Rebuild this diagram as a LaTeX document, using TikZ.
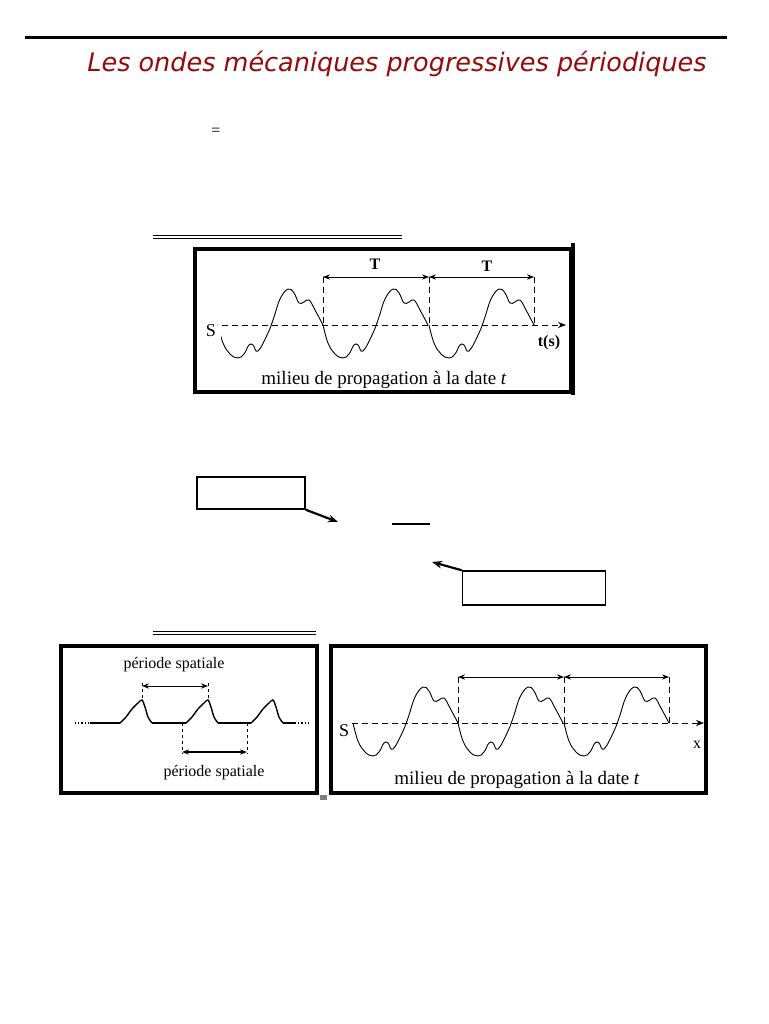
\documentclass[tikz,border=0pt]{standalone}
\usepackage{fontspec}
\setmainfont{Liberation Serif}
\newfontfamily\titlefont{DejaVu Sans}
\usetikzlibrary{arrows.meta}
\definecolor{titlered}{RGB}{150,10,10}
\tikzset{
 frame/.style={draw,line width=3.4pt},
 wave/.style={line width=0.9pt},
 dimarrow/.style={{Stealth[length=7pt]}-{Stealth[length=7pt]},line width=0.8pt},
 guide/.style={dash pattern=on 6pt off 4pt,line width=0.7pt},
 captext/.style={font=\fontsize{19}{22}\selectfont},
 period/.pic={\draw[wave] plot[smooth,tension=0.7] coordinates {(0,0)(5,18)(12,29)(20,33)(26,29)(31,20)(35,20)(40,26)(50,8)(56,-8)(62,-26)(70,-36)(76,-32)(81,-22)(86,-23)(91,-25)(97,-15)(105,0)};},
 pulse/.pic={\draw[line width=1.4pt] plot[smooth,tension=0.5] coordinates {(0,0)(6,-6)(12,-14)(18,-20)(22,-23)(25,-16)(28,-6)(32,0)};}
}
\begin{document}
\begin{tikzpicture}[x=1pt,y=-1pt]
\useasboundingbox (0,0) rectangle (768,1024);
\draw[line width=3pt] (25,38) -- (727,38);
\node[titlered,font=\titlefont\itshape\fontsize{25.5}{30}\selectfont] (title) at (397,64) {Les ondes mécaniques progressives périodiques};
\node[font=\fontsize{16}{18}\selectfont] (eq) at (216,132) {=};
\draw[line width=0.8pt] (153,235) -- (402,235) (153,238) -- (402,238);
% top graph
\draw[frame] (195,249) rectangle (571,392);
\draw[line width=3.5pt] (573,243) -- (573,395);
\coordinate (ta0) at (222,325);
\coordinate (ta1) at (566,325);
\draw[guide,-{Stealth[length=8pt]}] (ta0) -- (ta1);
\begin{scope}
\clip (221,200) rectangle (600,400);
\pic at (218,325) {period};
\end{scope}
\pic at (323,325) {period};
\pic at (429,325) {period};
\draw[guide] (323,277) -- (323,325) (429,277) -- (429,325) (534,277) -- (534,325);
\coordinate (tp0) at (323,277);\coordinate (tp1) at (429,277);\coordinate (tp2) at (534,277);
\draw[dimarrow] (tp0) -- (tp1);
\draw[dimarrow] (tp1) -- (tp2);
\node[font=\bfseries\fontsize{16}{18}\selectfont] (T1) at (375,264) {T};
\node[font=\bfseries\fontsize{16}{18}\selectfont] (T2) at (487,266) {T};
\node[font=\fontsize{18}{20}\selectfont] (S1) at (211,331) {S};
\node[font=\bfseries\fontsize{16}{18}\selectfont] (ts) at (549,343) {t(s)};
\node[captext] (cap1) at (384,380) {milieu de propagation à la date \textit{t}};
% middle boxes
\node[draw,line width=1.5pt,minimum width=108pt,minimum height=32pt] (b1) at (251,493) {};
\node[draw,line width=1.5pt,minimum width=143pt,minimum height=34pt] (b2) at (534,588) {};
\coordinate (a1) at (338,522);
\coordinate (a2) at (432,562);
\draw[line width=2.2pt,-{Stealth[length=10pt]}] (b1.south east) -- (a1);
\draw[line width=2.2pt,-{Stealth[length=10pt]}] (b2.north west) -- (a2);
\draw[line width=1.8pt] (392,524) -- (430,524);
\draw[line width=0.8pt] (153,631) -- (316,631) (153,634) -- (316,634);
% bottom left
\draw[frame] (61,646) rectangle (317,793);
\draw[line width=1.2pt,dotted] (75,723) -- (90,723) (295,723) -- (310,723);
\draw[line width=1.4pt] (90,723) -- (120,723) (152,723) -- (186,723) (218,723) -- (251,723) (283,723) -- (295,723);
\pic at (120,723) {pulse};
\pic at (186,723) {pulse};
\pic at (251,723) {pulse};
\draw[dashed,line width=0.5pt] (142,683) -- (142,700) (208,683) -- (208,700) (182,723) -- (182,754) (247,723) -- (247,754);
\coordinate (p0) at (142,686);\coordinate (p1) at (208,686);
\coordinate (q0) at (182,752);\coordinate (q1) at (247,752);
\draw[dimarrow] (p0) -- (p1);
\draw[dimarrow,line width=1.2pt] (q0) -- (q1);
\node[font=\fontsize{16}{18}\selectfont] (ps1) at (174,665) {période spatiale};
\node[font=\fontsize{16}{18}\selectfont] (ps2) at (214,773) {période spatiale};
% bottom right
\draw[frame] (331,646) rectangle (706,793);
\coordinate (xa0) at (352,723);
\coordinate (xa1) at (704,723);
\draw[guide,-{Stealth[length=8pt]}] (xa0) -- (xa1);
\begin{scope}
\clip (352,600) rectangle (700,800);
\pic at (353,723) {period};
\end{scope}
\pic at (458,723) {period};
\pic at (564,723) {period};
\draw[guide] (458,677) -- (458,723) (564,677) -- (564,723) (669,677) -- (669,723);
\coordinate (r0) at (458,677);\coordinate (r1) at (564,677);\coordinate (r2) at (669,677);
\draw[dimarrow] (r0) -- (r1);
\draw[dimarrow] (r1) -- (r2);
\node[font=\fontsize{18}{20}\selectfont] (S2) at (344,731) {S};
\node[font=\fontsize{16}{18}\selectfont] (xl) at (697,745) {x};
\node[captext] (cap2) at (517,780) {milieu de propagation à la date \textit{t}};
\fill[gray] (320,795) rectangle (327,800);
\end{tikzpicture}
\end{document}
